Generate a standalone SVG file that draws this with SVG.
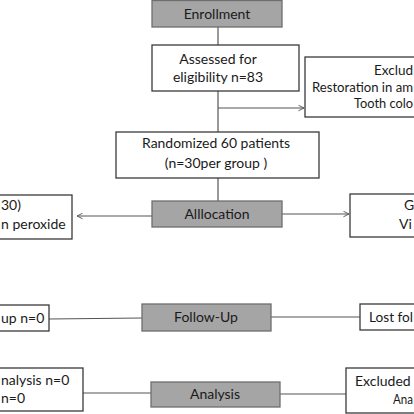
<svg xmlns="http://www.w3.org/2000/svg" width="414" height="414" viewBox="0 0 414 414">
<defs>
<style>
.box{fill:#ffffff;stroke:#3a3a3a;stroke-width:1.3}
.stage{fill:#a5a5a5;stroke:#6e6e6e;stroke-width:1.3}
.t{font-family:Lato,"Open Sans",sans-serif;font-size:14px;fill:#1a1a1a}
.c{text-anchor:middle}
.ln{stroke:#555555;stroke-width:1.2;fill:none}
</style>
<marker id="arr" viewBox="0 0 10 10" refX="9" refY="5" markerWidth="7" markerHeight="7" orient="auto-start-reverse" markerUnits="userSpaceOnUse">
<path d="M1,1 L9,5 L1,9" fill="none" stroke="#555555" stroke-width="1.3"/>
</marker>
</defs>
<rect width="414" height="414" fill="#ffffff"/>
<g id="connectors">
<line class="ln" x1="218" y1="27" x2="218" y2="45"/>
<line class="ln" x1="218" y1="91" x2="218" y2="132"/>
<line class="ln" x1="218" y1="108" x2="304" y2="108" marker-end="url(#arr)"/>
<line class="ln" x1="218" y1="178" x2="218" y2="201"/>
<line class="ln" x1="152" y1="216" x2="77" y2="216" marker-end="url(#arr)"/>
<line class="ln" x1="282" y1="214" x2="349" y2="214" marker-end="url(#arr)"/>
<line class="ln" x1="49" y1="319" x2="142" y2="318"/>
<line class="ln" x1="271" y1="317" x2="360" y2="317"/>
<line class="ln" x1="83" y1="393" x2="151" y2="393"/>
<line class="ln" x1="280" y1="394" x2="346" y2="394"/>
</g>
<g id="enrollment">
<rect class="stage" x="152" y="0.5" width="130" height="26.5"/>
<text class="t c" x="217" y="18.5">Enrollment</text>
</g>
<g id="assessed">
<rect class="box" x="152" y="45" width="147" height="46"/>
<text class="t c" x="218" y="64">Assessed  for</text>
<text class="t c" x="218" y="82">eligibility n=83</text>
</g>
<g id="excluded">
<rect class="box" x="305" y="57" width="115" height="60"/>
<text class="t" x="374" y="75" textLength="39" lengthAdjust="spacingAndGlyphs">Exclud</text>
<text class="t" x="312" y="92" textLength="101" lengthAdjust="spacingAndGlyphs">Restoration in am</text>
<text class="t" x="354" y="108" textLength="59" lengthAdjust="spacingAndGlyphs">Tooth colo</text>
</g>
<g id="randomized">
<rect class="box" x="116" y="132" width="203" height="46"/>
<text class="t c" x="216" y="148" textLength="148" lengthAdjust="spacingAndGlyphs">Randomized 60 patients</text>
<text class="t c" x="216" y="168">(n=30per group )</text>
</g>
<g id="allocation">
<rect class="stage" x="152" y="201" width="130" height="26"/>
<text class="t c" x="217" y="219">Alllocation</text>
</g>
<g id="group-left">
<rect class="box" x="-10" y="195" width="82" height="44"/>
<text class="t" x="1" y="210">30)</text>
<text class="t" x="1" y="229">n peroxide</text>
</g>
<g id="group-right">
<rect class="box" x="350" y="194" width="70" height="43"/>
<text class="t" x="404" y="210">G</text>
<text class="t" x="399" y="229">Vi</text>
</g>
<g id="followup-left">
<rect class="box" x="-10" y="305" width="59" height="26"/>
<text class="t" x="1" y="323">up n=0</text>
</g>
<g id="followup">
<rect class="stage" x="142" y="304" width="129" height="27"/>
<text class="t c" x="206" y="322">Follow-Up</text>
</g>
<g id="followup-right">
<rect class="box" x="360" y="304" width="60" height="26"/>
<text class="t" x="369" y="322" textLength="44" lengthAdjust="spacingAndGlyphs">Lost fol</text>
</g>
<g id="analysis-left">
<rect class="box" x="-10" y="368" width="93" height="43"/>
<text class="t" x="1" y="385">nalysis n=0</text>
<text class="t" x="1" y="403">n=0</text>
</g>
<g id="analysis">
<rect class="stage" x="151" y="382" width="129" height="25"/>
<text class="t c" x="215" y="399">Analysis</text>
</g>
<g id="analysis-right">
<rect class="box" x="346" y="368" width="74" height="45"/>
<text class="t" x="355" y="386">Excluded</text>
<text class="t" x="393" y="404" textLength="20" lengthAdjust="spacingAndGlyphs">Ana</text>
</g>
</svg>
